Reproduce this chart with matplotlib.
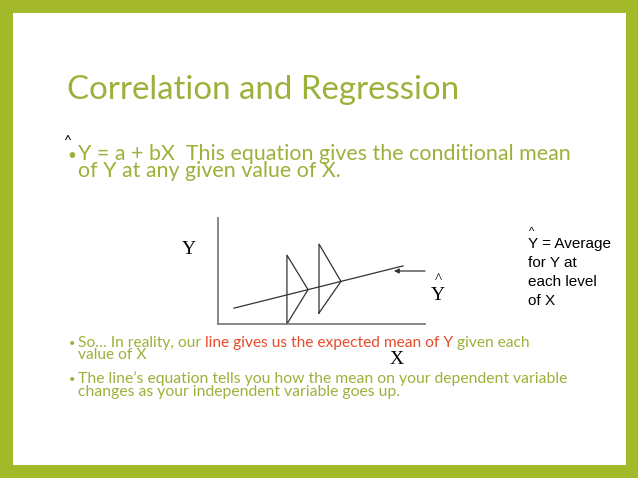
import matplotlib
matplotlib.use("Agg")
import matplotlib.pyplot as plt
from matplotlib.patches import Rectangle

# slide text
title = "Correlation and Regression"
eq_line1 = "Y = a + bX  This equation gives the conditional mean"
eq_line2 = "of Y at any given value of X."
b1_parts = [("So\u2026 In reality, our ", "green"), ("line gives us the expected mean of Y", "red"),
            (" given each", "green")]
b1_line2 = "value of X"
b2_line1 = "The line\u2019s equation tells you how the mean on your dependent variable"
b2_line2 = "changes as your independent variable goes up."
note_lines = ["Y = Average", "for Y at", "each level", "of X"]

# diagram data (diagram units: x 0..10, y 0..5)
reg_a = 0.56
reg_b = 0.244
reg_x = [0.77, 8.94]
dist_base_x = [3.33, 4.88]
dist_bottom = [0.0, 0.52]
dist_top = [3.25, 3.77]
dist_tip_x = [4.35, 5.94]
arrow_from = (10.0, 2.5)
arrow_to = (8.5, 2.5)

GREEN = "#9AB23A"
BORDER = "#A4B929"
RED = "#E64B2C"
COLORS = {"green": GREEN, "red": RED}

W, H = 638, 478
fig = plt.figure(figsize=(W / 100, H / 100), dpi=100)
fig.patch.set_facecolor(BORDER)
fig.patches.append(Rectangle((13 / W, 13 / H), 613 / W, 452 / H, transform=fig.transFigure,
                             facecolor="white", edgecolor="none", zorder=-5))


def px(x, y):
    return x / W, 1 - y / H


sans = ["Lato", "DejaVu Sans"]

fig.text(*px(67, 99), title, fontsize=23.8, color=GREEN, family=sans, va="baseline")

# equation bullet
fig.text(*px(72, 160), "\u2022", fontsize=11, color=GREEN, family=sans, va="baseline", ha="center")
fig.text(*px(78, 160), eq_line1, fontsize=15.4, color=GREEN, family=sans, va="baseline")
fig.text(*px(78, 177), eq_line2, fontsize=15.4, color=GREEN, family=sans, va="baseline")
fig.text(*px(67, 145), "^", fontsize=10, color="black", family=sans, va="baseline", ha="center")

# lower bullets
renderer = fig.canvas.get_renderer()
x0 = 78
for txt, c in b1_parts:
    t = fig.text(*px(x0, 347), txt, fontsize=11.2, color=COLORS[c], family=sans, va="baseline")
    x0 += t.get_window_extent(renderer).width
fig.text(*px(72, 347), "\u2022", fontsize=8, color=GREEN, family=sans, va="baseline", ha="center")
fig.text(*px(78, 359), b1_line2, fontsize=11.2, color=GREEN, family=sans, va="baseline")
fig.text(*px(72, 383), "\u2022", fontsize=8, color=GREEN, family=sans, va="baseline", ha="center")
fig.text(*px(78, 383), b2_line1, fontsize=11.3, color=GREEN, family=sans, va="baseline")
fig.text(*px(78, 396), b2_line2, fontsize=11.3, color=GREEN, family=sans, va="baseline")

# right-hand note
for i, line in enumerate(note_lines):
    fig.text(*px(528, 248 + 19 * i), line, fontsize=11, color="black",
             family=["Liberation Sans", "DejaVu Sans"], va="baseline")
fig.text(*px(532, 235), "^", fontsize=8, color="black", family=["Liberation Sans"],
         va="baseline", ha="center")

# diagram
ax = fig.add_axes([218 / W, 1 - 324 / H, 207 / W, 106 / H])
ax.set_xlim(0, 10)
ax.set_ylim(0, 5)
ax.patch.set_alpha(0)
for s in ["top", "right"]:
    ax.spines[s].set_visible(False)
for s in ["left", "bottom"]:
    ax.spines[s].set_color("#7f7f7f")
    ax.spines[s].set_linewidth(1.3)
ax.set_xticks([])
ax.set_yticks([])

ax.plot(reg_x, [reg_a + reg_b * x for x in reg_x], color="#333333", lw=0.9)
for bx, lo, hi, tx in zip(dist_base_x, dist_bottom, dist_top, dist_tip_x):
    ty = reg_a + reg_b * tx
    ax.plot([bx, bx, tx, bx], [lo, hi, ty, lo], color="#333333", lw=0.9, clip_on=False)
ax.annotate("", xy=arrow_to, xytext=arrow_from,
            arrowprops=dict(arrowstyle="-|>", color="#333333", lw=0.9, mutation_scale=7,
                            shrinkA=0, shrinkB=0),
            annotation_clip=False)

serif = ["Liberation Serif", "DejaVu Serif"]
fig.text(*px(189, 254), "Y", fontsize=14, color="black", family=serif, va="baseline", ha="center")
fig.text(*px(438, 300), "Y", fontsize=14, color="black", family=serif, va="baseline", ha="center")
fig.text(*px(438, 283), "^", fontsize=11, color="black", family=serif, va="baseline", ha="center")
fig.text(*px(397, 364), "X", fontsize=14, color="black", family=serif, va="baseline", ha="center")

fig.savefig("out.png", dpi=100, facecolor=fig.get_facecolor())
